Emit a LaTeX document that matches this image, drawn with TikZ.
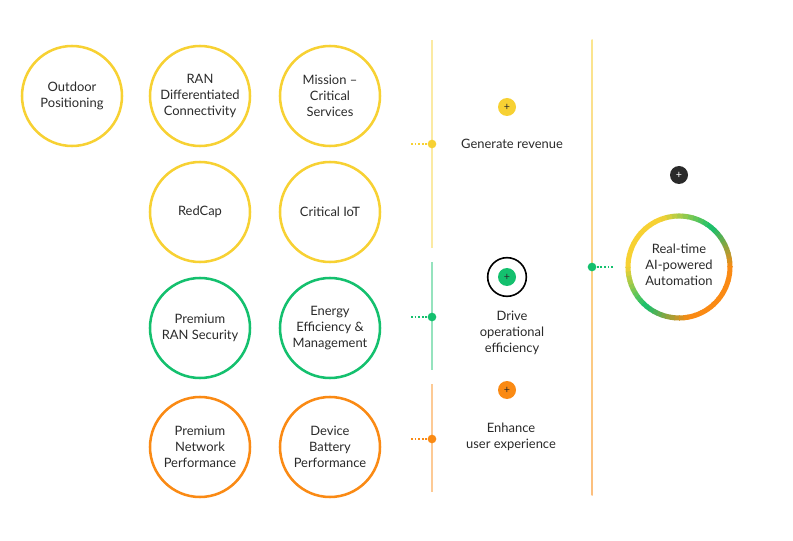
\documentclass[tikz,border=0pt]{standalone}
\usepackage{fontspec}
\setmainfont{Lato}
\usetikzlibrary{arrows.meta,positioning,calc}
\definecolor{eyel}{HTML}{F7D133}
\definecolor{egrn}{HTML}{14C06E}
\definecolor{eorg}{HTML}{FA8A14}
\definecolor{etxt}{HTML}{2A2A2A}

\begin{document}
\begin{tikzpicture}[x=0.75pt,y=0.75pt,
  uc/.style={draw=#1, circle, line width=1.9pt, minimum size=75pt, inner sep=0pt,
             align=center, font=\fontsize{9.7}{12}\selectfont, text=etxt},
  pls/.style={circle, fill=#1, minimum size=13.5pt, inner sep=0pt,
              font=\fontsize{8}{8}\selectfont, text=etxt},
  jdot/.style={circle, fill=#1, minimum size=6.5pt, inner sep=0pt},
  ldr/.style={draw=#1, line width=1.3pt, dash pattern=on 1.3pt off 1.4pt},
  vln/.style={draw=#1!45, line width=0.8pt},
  lbl/.style={align=center, font=\fontsize{9.7}{12}\selectfont, text=etxt},
]
\useasboundingbox (0,0) rectangle (793,540);

\node[uc=eyel] (outdoor) at (72,444) {Outdoor\\Positioning};
\node[uc=eyel] (randc) at (200,444) {RAN\\Differentiated\\Connectivity};
\node[uc=eyel] (mission) at (330,444) {Mission --\\Critical\\Services};
\node[uc=eyel] (redcap) at (200,328) {RedCap};
\node[uc=eyel] (ciot) at (330,328) {Critical IoT};
\node[uc=egrn] (ransec) at (200,212) {Premium\\RAN Security};
\node[uc=egrn] (energy) at (330,212) {Energy\\Efficiency \&\\Management};
\node[uc=eorg] (netperf) at (200,93) {Premium\\Network\\Performance};
\node[uc=eorg] (battery) at (330,93) {Device\\Battery\\Performance};

\draw[vln=eyel] (432,500) -- (432,292);
\draw[vln=egrn] (432,278) -- (432,170);
\draw[vln=eorg] (432,156) -- (432,48);
\shade[top color=eyel!55, middle color=egrn!55, bottom color=eorg!55]
  (591.5,45) rectangle (592.5,500);

\node[jdot=eyel] (drev) at (432,396) {};
\node[jdot=egrn] (dops) at (432,223) {};
\node[jdot=eorg] (dux) at (432,101) {};
\node[jdot=egrn] (dauto) at (592,273) {};
\coordinate (lrev) at (411,396);
\coordinate (lops) at (411,223);
\coordinate (lux) at (411,101);
\coordinate (lauto) at (613,273);
\draw[ldr=eyel] (lrev) -- (drev);
\draw[ldr=egrn] (lops) -- (dops);
\draw[ldr=eorg] (lux) -- (dux);
\draw[ldr=egrn] (lauto) -- (dauto);

\node[pls=eyel] (prev) at (507,433) {+};
\node[pls=egrn] (pops) at (507,263) {+};
\draw[line width=1.2pt] (pops) circle[radius=14.5pt];
\node[pls=eorg] (pux) at (507,150) {+};
\node[pls=etxt, text=white] (pauto) at (679,365) {+};

\node[lbl] (rev) at (512,396) {Generate revenue};
\node[lbl] (ops) at (512,207) {Drive\\operational\\efficiency};
\node[lbl] (ux) at (511,103) {Enhance\\user experience};

\coordinate (rc) at (679,273);
\foreach \a/\b/\ca/\cb in {110/180/eyel/eyel, 50/110/egrn/eyel, 0/50/eorg/egrn,
                           -80/0/eorg/eorg, -130/-80/egrn/eorg, -180/-130/eyel/egrn} {
  \foreach \i in {0,...,9} {
    \pgfmathsetmacro\s{\a+(\b-\a)*\i/10}
    \pgfmathsetmacro\e{\a+(\b-\a)*(\i+1)/10+1}
    \pgfmathtruncatemacro\p{100-(\i+0.5)*10}
    \draw[line width=3.8pt, \ca!\p!\cb] (rc) ++(\s:38.25pt) arc[start angle=\s, end angle=\e, radius=38.25pt];
  }
}
\node[lbl] (auto) at (679,275) {Real-time\\AI-powered\\Automation};
\end{tikzpicture}
\end{document}
